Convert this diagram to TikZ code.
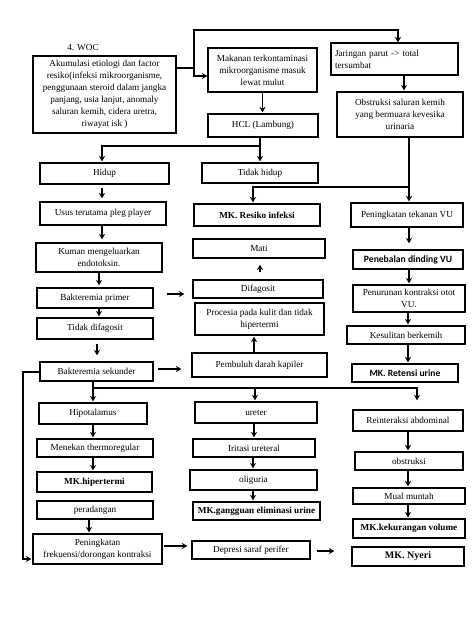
\documentclass[tikz,border=0pt]{standalone}
\usepackage{fontspec}
\setmainfont{Liberation Serif}
\newfontfamily\calfont{Carlito}
\usetikzlibrary{arrows.meta}
\newcommand\fs{\fontsize{9.2}{12}\selectfont}
\tikzset{
  box/.style={draw, line width=1.2pt, inner sep=1pt, align=center, font=\fs},
  bbox/.style={box, font=\fs\bfseries},
  cbox/.style={box, font=\fontsize{9.6}{11}\selectfont\calfont\bfseries},
  ln/.style={line width=1.4pt},
  arr/.style={ln, -{Stealth[length=5.5pt,width=6pt]}, shorten >=1pt},
  darr/.style={ln, {Stealth[length=5.5pt,width=6pt]}-{Stealth[length=5.5pt,width=6pt]}}
}
\begin{document}
\begin{tikzpicture}[x=1pt,y=-1pt]
\useasboundingbox[fill=white] (0,0) rectangle (474,632);

\node[font=\fs] (woc) at (83,48) {4. WOC};

% column 1
\node[box,minimum width=143pt,minimum height=77pt] (aku) at (104.5,94.5) {Akumulasi etiologi dan factor\\resiko(infeksi mikroorganisme,\\penggunaan steroid dalam jangka\\panjang, usia lanjut, anomaly\\saluran kemih, cidera uretra,\\riwayat isk )};
\node[box,minimum width=129pt,minimum height=21pt] (hid) at (104.5,173.5) {Hidup};
\node[box,minimum width=126pt,minimum height=23pt] (usus) at (103,213.5) {Usus terutama pleg player};
\node[box,minimum width=126pt,minimum height=29pt] (kum) at (99,257.5) {Kuman mengeluarkan\\endotoksin.};
\node[box,minimum width=116pt,minimum height=20pt] (bp) at (95,298) {Bakteremia primer};
\node[box,minimum width=116pt,minimum height=21pt] (tdf) at (95,328.5) {Tidak difagosit};
\node[box,minimum width=113pt,minimum height=19pt] (bs) at (96.5,371.5) {Bakteremia sekunder};
\node[box,minimum width=108pt,minimum height=21pt] (hip) at (93,413.5) {Hipotalamus};
\node[box,minimum width=116pt,minimum height=18pt] (men) at (95,448) {Menekan thermoregular};
\node[bbox,minimum width=115pt,minimum height=20pt] (mkh) at (94.5,482) {MK.hipertermi};
\node[box,minimum width=116pt,minimum height=18pt] (per) at (95,510) {peradangan};
\node[box,minimum width=129pt,minimum height=30pt] (pfk) at (97.5,549) {Peningkatan\\frekuensi/dorongan kontraksi};

% column 2
\node[box,minimum width=109pt,minimum height=44pt] (mak) at (262.5,70) {Makanan terkontaminasi\\mikroorganisme masuk\\lewat mulut};
\node[box,minimum width=110pt,minimum height=23pt] (hcl) at (263,125.5) {HCL (Lambung)};
\node[box,minimum width=116pt,minimum height=20pt] (tdh) at (260,173) {Tidak hidup};
\node[bbox,minimum width=126pt,minimum height=22pt] (mkr) at (257,215) {MK. Resiko infeksi};
\node[box,minimum width=132pt,minimum height=19pt] (mati) at (259,248.5) {Mati};
\node[box,minimum width=130pt,minimum height=18pt] (dif) at (258,289) {Difagosit};
\node[box,minimum width=129pt,minimum height=32pt] (proc) at (259.5,319) {Procesia pada kulit dan tidak\\hipertermi};
\node[box,minimum width=135pt,minimum height=24pt] (pemb) at (259.5,365) {Pembuluh darah kapiler};
\node[box,minimum width=122pt,minimum height=21pt] (ure) at (256,412.5) {ureter};
\node[box,minimum width=122pt,minimum height=18pt] (iri) at (254,448) {Iritasi ureteral};
\node[box,minimum width=127pt,minimum height=20pt] (oli) at (253.5,480) {oliguria};
\node[bbox,minimum width=127pt,minimum height=18pt] (mkg) at (256.5,511) {MK.gangguan eliminasi urine};
\node[box,minimum width=118pt,minimum height=18pt] (dep) at (251,550) {Depresi saraf perifer};

% column 3
\node[box,align=left,inner xsep=4pt,text width=119pt,minimum height=32pt] (jar) at (394.5,59) {Jaringan parut -> total\\tersumbat};
\node[box,minimum width=126pt,minimum height=45pt] (obs) at (400,114.5) {Obstruksi saluran kemih\\yang bermuara kevesika\\urinaria};
\node[box,minimum width=112pt,minimum height=24pt] (ptv) at (407,215) {Peningkatan tekanan VU};
\node[cbox,minimum width=110pt,minimum height=19pt] (peneb) at (408,259.5) {Penebalan dinding VU};
\node[box,minimum width=112pt,minimum height=27pt] (pkov) at (409,298.5) {Penurunan kontraksi otot\\VU.};
\node[box,minimum width=118pt,minimum height=18pt] (kes) at (406,335) {Kesulitan berkemih};
\node[cbox,minimum width=106pt,minimum height=18pt] (mkru) at (405,373) {MK. Retensi urine};
\node[box,minimum width=110pt,minimum height=21pt] (rein) at (408,420.5) {Reinteraksi abdominal};
\node[box,minimum width=108pt,minimum height=18pt] (obst) at (409,461) {obstruksi};
\node[box,minimum width=112pt,minimum height=16pt] (mual) at (409,496) {Mual muntah};
\node[bbox,minimum width=112pt,minimum height=19pt] (mkk) at (409,528.5) {MK.kekurangan volume};
\node[bbox,font=\fontsize{10}{12}\selectfont\bfseries,minimum width=112pt,minimum height=19pt] (mkn) at (408,556.5) {MK. Nyeri};

% top connectors
\coordinate (j1) at (194,68);
\coordinate (jt) at (194,30);
\coordinate (jb) at (194,76);
\coordinate (jr) at (398,30);
\draw[ln] (aku.east|-j1) -- (j1);
\draw[darr] (mak.west|-jb) -- (jb) -- (jt) -- (jr) -- (jr|-jar.north);
\draw[arr] (mak.south) -- (mak.south|-hcl.north);
\coordinate (h1) at (260,146);
\coordinate (h2) at (102,146);
\draw[arr] (hcl.south-|h1) -- (h1|-tdh.north);
\draw[arr] (h1) -- (h2) -- (h2|-hid.north);
\draw[arr] (404,0|-jar.south) -- (404,0|-obs.north);

% obstruksi branch
\coordinate (o1) at (409,187);
\coordinate (o2) at (253,187);
\draw[arr] (409,0|-obs.south) -- (409,0|-ptv.north);
\draw[arr] (o1) -- (o2) -- (o2|-mkr.north);

% column 1 vertical
\draw[arr,shorten <=3pt,shorten >=3pt] (102,0|-hid.south) -- (102,0|-usus.north);
\draw[arr,shorten >=3pt] (102,0|-usus.south) -- (102,0|-kum.north);
\draw[arr,shorten >=2pt] (99,0|-kum.south) -- (99,0|-bp.north);
\draw[arr] (99,0|-bp.south) -- (99,0|-tdf.north);
\draw[arr,shorten <=4pt,shorten >=6pt] (97,0|-tdf.south) -- (97,0|-bs.north);
\coordinate (b1) at (93,388);
\coordinate (b2) at (417,388);
\draw[arr] (93,0|-bs.south) -- (93,0|-hip.north);
\draw[arr,shorten >=9pt] (b1) -- (b2) -- (b2|-rein.north);
\draw[arr] (255,0|-b1) -- (255,0|-ure.north);
\draw[arr] (93,0|-hip.south) -- (93,0|-men.north);
\draw[arr] (93,0|-men.south) -- (93,0|-mkh.north);
\draw[arr] (89,0|-per.south) -- (89,0|-pfk.north);
\coordinate (l1) at (23,372);
\coordinate (l2) at (23,559);
\draw[arr] (bs.west|-l1) -- (l1) -- (l2) -- (pfk.west|-l2);

% horizontal floating arrows
\draw[arr,shorten <=13pt,shorten >=8pt] (bp.east|-0,294) -- (dif.west|-0,294);
\draw[arr,shorten <=4pt,shorten >=10pt] (bs.east|-0,369) -- (pemb.west|-0,369);
\draw[arr,shorten <=1pt,shorten >=4pt] (pfk.east|-0,546) -- (dep.west|-0,546);
\draw[arr,shorten <=6pt,shorten >=17pt] (dep.east|-0,551) -- (mkn.west|-0,551);

% column 2 vertical
\draw[arr,shorten <=7pt,shorten >=6pt] (260,0|-dif.north) -- (260,0|-mati.south);
\draw[arr] (254,0|-pemb.north) -- (254,0|-proc.south);
\draw[arr] (254,0|-ure.south) -- (254,0|-iri.north);
\draw[arr] (253,0|-iri.south) -- (253,0|-oli.north);
\draw[arr] (253,0|-oli.south) -- (253,0|-mkg.north);

% column 3 vertical
\draw[arr,shorten >=6pt] (409,0|-ptv.south) -- (409,0|-peneb.north);
\draw[arr] (409,0|-peneb.south) -- (409,0|-pkov.north);
\draw[arr] (408,0|-pkov.south) -- (408,0|-kes.north);
\draw[arr] (408,0|-kes.south) -- (408,0|-mkru.north);
\draw[arr] (408,0|-rein.south) -- (408,0|-obst.north);
\draw[arr] (408,0|-obst.south) -- (408,0|-mual.north);
\draw[arr] (408,0|-mual.south) -- (408,0|-mkk.north);
\end{tikzpicture}
\end{document}
